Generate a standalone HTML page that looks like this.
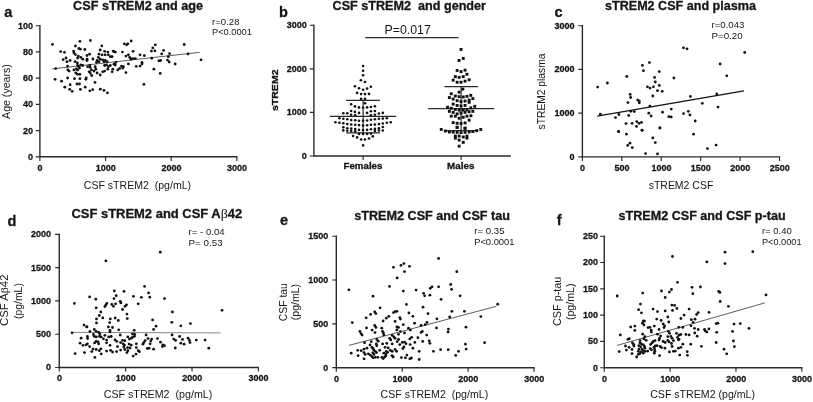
<!DOCTYPE html><html><head><meta charset="utf-8"><title>Figure</title><style>html,body{margin:0;padding:0;background:#fff}svg{display:block}text{font-family:"Liberation Sans",Arial,sans-serif;fill:#161616}text[font-weight=bold],g[font-weight=bold] text{stroke:#161616;stroke-width:.3px}</style></head><body>
<svg width="813" height="402" viewBox="0 0 813 402">
<rect width="813" height="402" fill="#fff"/>
<g id="pa">
<text x="4.20" y="16.70" font-size="14.5" font-weight="bold">a</text>
<text x="73.10" y="10.10" font-size="12.5" font-weight="bold" textLength="130.00" lengthAdjust="spacingAndGlyphs" xml:space="preserve">CSF sTREM2 and age</text>
<text x="212.10" y="24.70" font-size="9.3" textLength="27.40" lengthAdjust="spacingAndGlyphs" xml:space="preserve">r=0.28</text>
<text x="212.10" y="35.40" font-size="9.3" textLength="39.70" lengthAdjust="spacingAndGlyphs" xml:space="preserve">P&lt;0.0001</text>
<path d="M39.9 25.12V156.8H237.42" fill="none" stroke="#2a2a2a" stroke-width="1.4" stroke-linejoin="miter"/><path d="M35.80 25.70H39.9M35.80 51.92H39.9M35.80 78.14H39.9M35.80 104.36H39.9M35.80 130.58H39.9M35.80 156.80H39.9M39.90 156.8V160.90M105.55 156.8V160.90M171.20 156.8V160.90M236.85 156.8V160.90" fill="none" stroke="#2a2a2a" stroke-width="1.15"/><g font-weight="bold" font-size="9.6"><text x="18.10" y="28.69" textLength="15.00" lengthAdjust="spacingAndGlyphs">100</text><text x="23.10" y="54.91" textLength="10.00" lengthAdjust="spacingAndGlyphs">80</text><text x="23.10" y="81.13" textLength="10.00" lengthAdjust="spacingAndGlyphs">60</text><text x="23.10" y="107.35" textLength="10.00" lengthAdjust="spacingAndGlyphs">40</text><text x="23.10" y="133.57" textLength="10.00" lengthAdjust="spacingAndGlyphs">20</text><text x="28.10" y="159.79" textLength="5.00" lengthAdjust="spacingAndGlyphs">0</text><text x="37.60" y="170.90" textLength="5.00" lengthAdjust="spacingAndGlyphs">0</text><text x="95.75" y="170.90" textLength="20.00" lengthAdjust="spacingAndGlyphs">1000</text><text x="161.40" y="170.90" textLength="20.00" lengthAdjust="spacingAndGlyphs">2000</text><text x="227.05" y="170.90" textLength="20.00" lengthAdjust="spacingAndGlyphs">3000</text></g>
<text transform="translate(9.60 118.90) rotate(-90)" font-size="10.4" textLength="54.70" lengthAdjust="spacingAndGlyphs" xml:space="preserve">Age (years)</text>
<text x="83.80" y="189.30" font-size="10.4" textLength="107.30" lengthAdjust="spacingAndGlyphs" xml:space="preserve">CSF sTREM2  (pg/mL)</text>
<line x1="52.2" y1="68.9" x2="199.7" y2="52.3" stroke="#333" stroke-width="0.8"/>
<g fill="#111"><circle cx="52.5" cy="44.3" r="1.4"/><circle cx="79.9" cy="41.3" r="1.4"/><circle cx="90.4" cy="40.5" r="1.4"/><circle cx="131.2" cy="41.0" r="1.4"/><circle cx="75.4" cy="46.0" r="1.4"/><circle cx="101.8" cy="45.8" r="1.4"/><circle cx="124.3" cy="43.8" r="1.4"/><circle cx="126.6" cy="44.8" r="1.4"/><circle cx="127.8" cy="43.8" r="1.4"/><circle cx="78.9" cy="48.5" r="1.4"/><circle cx="80.4" cy="49.2" r="1.4"/><circle cx="84.8" cy="49.5" r="1.4"/><circle cx="100.2" cy="50.0" r="1.4"/><circle cx="104.6" cy="51.3" r="1.4"/><circle cx="107.8" cy="52.1" r="1.4"/><circle cx="113.1" cy="51.1" r="1.4"/><circle cx="115.3" cy="52.1" r="1.4"/><circle cx="114.0" cy="51.7" r="1.4"/><circle cx="60.7" cy="51.6" r="1.4"/><circle cx="64.5" cy="52.3" r="1.4"/><circle cx="73.6" cy="51.1" r="1.4"/><circle cx="73.9" cy="52.9" r="1.4"/><circle cx="75.4" cy="54.6" r="1.4"/><circle cx="122.4" cy="52.1" r="1.4"/><circle cx="133.1" cy="51.3" r="1.4"/><circle cx="140.0" cy="54.8" r="1.4"/><circle cx="89.6" cy="54.2" r="1.4"/><circle cx="87.0" cy="55.5" r="1.4"/><circle cx="99.0" cy="54.2" r="1.4"/><circle cx="102.1" cy="54.8" r="1.4"/><circle cx="105.2" cy="54.8" r="1.4"/><circle cx="108.4" cy="54.8" r="1.4"/><circle cx="110.3" cy="56.7" r="1.4"/><circle cx="112.1" cy="56.7" r="1.4"/><circle cx="78.3" cy="56.1" r="1.4"/><circle cx="77.6" cy="58.0" r="1.4"/><circle cx="80.8" cy="57.3" r="1.4"/><circle cx="82.7" cy="59.2" r="1.4"/><circle cx="87.0" cy="59.2" r="1.4"/><circle cx="87.0" cy="60.5" r="1.4"/><circle cx="63.2" cy="59.6" r="1.4"/><circle cx="66.0" cy="58.0" r="1.4"/><circle cx="67.0" cy="61.7" r="1.4"/><circle cx="70.1" cy="60.5" r="1.4"/><circle cx="92.9" cy="59.0" r="1.4"/><circle cx="98.3" cy="57.3" r="1.4"/><circle cx="100.2" cy="59.2" r="1.4"/><circle cx="97.1" cy="60.5" r="1.4"/><circle cx="96.5" cy="62.4" r="1.4"/><circle cx="99.0" cy="61.7" r="1.4"/><circle cx="102.7" cy="59.8" r="1.4"/><circle cx="105.2" cy="60.5" r="1.4"/><circle cx="104.0" cy="61.7" r="1.4"/><circle cx="107.1" cy="61.7" r="1.4"/><circle cx="125.9" cy="56.1" r="1.4"/><circle cx="128.4" cy="54.8" r="1.4"/><circle cx="129.7" cy="57.3" r="1.4"/><circle cx="131.0" cy="59.2" r="1.4"/><circle cx="132.8" cy="58.6" r="1.4"/><circle cx="135.3" cy="58.6" r="1.4"/><circle cx="75.1" cy="61.7" r="1.4"/><circle cx="77.4" cy="63.0" r="1.4"/><circle cx="77.6" cy="65.5" r="1.4"/><circle cx="80.8" cy="64.9" r="1.4"/><circle cx="82.7" cy="65.5" r="1.4"/><circle cx="78.9" cy="66.7" r="1.4"/><circle cx="115.9" cy="62.4" r="1.4"/><circle cx="114.0" cy="64.2" r="1.4"/><circle cx="115.3" cy="65.1" r="1.4"/><circle cx="106.5" cy="64.9" r="1.4"/><circle cx="104.6" cy="65.5" r="1.4"/><circle cx="108.4" cy="66.7" r="1.4"/><circle cx="110.3" cy="65.5" r="1.4"/><circle cx="89.9" cy="65.1" r="1.4"/><circle cx="87.7" cy="66.7" r="1.4"/><circle cx="90.2" cy="67.4" r="1.4"/><circle cx="95.2" cy="66.7" r="1.4"/><circle cx="95.8" cy="69.2" r="1.4"/><circle cx="55.7" cy="68.6" r="1.4"/><circle cx="67.6" cy="66.1" r="1.4"/><circle cx="67.8" cy="69.9" r="1.4"/><circle cx="69.1" cy="71.1" r="1.4"/><circle cx="73.9" cy="69.9" r="1.4"/><circle cx="76.4" cy="68.9" r="1.4"/><circle cx="77.6" cy="69.9" r="1.4"/><circle cx="79.5" cy="68.0" r="1.4"/><circle cx="128.4" cy="63.9" r="1.4"/><circle cx="121.5" cy="66.1" r="1.4"/><circle cx="123.4" cy="66.7" r="1.4"/><circle cx="122.8" cy="68.0" r="1.4"/><circle cx="119.7" cy="68.4" r="1.4"/><circle cx="117.8" cy="69.9" r="1.4"/><circle cx="136.3" cy="66.4" r="1.4"/><circle cx="140.1" cy="66.1" r="1.4"/><circle cx="107.8" cy="69.2" r="1.4"/><circle cx="104.6" cy="71.1" r="1.4"/><circle cx="102.7" cy="71.8" r="1.4"/><circle cx="112.8" cy="69.2" r="1.4"/><circle cx="112.1" cy="71.8" r="1.4"/><circle cx="125.9" cy="72.6" r="1.4"/><circle cx="91.4" cy="69.9" r="1.4"/><circle cx="89.2" cy="71.8" r="1.4"/><circle cx="90.2" cy="73.0" r="1.4"/><circle cx="94.0" cy="71.1" r="1.4"/><circle cx="97.1" cy="73.0" r="1.4"/><circle cx="100.2" cy="74.9" r="1.4"/><circle cx="91.7" cy="75.5" r="1.4"/><circle cx="75.8" cy="73.0" r="1.4"/><circle cx="77.6" cy="74.3" r="1.4"/><circle cx="79.9" cy="74.3" r="1.4"/><circle cx="55.1" cy="79.3" r="1.4"/><circle cx="61.6" cy="81.2" r="1.4"/><circle cx="67.6" cy="78.0" r="1.4"/><circle cx="74.5" cy="78.7" r="1.4"/><circle cx="79.9" cy="78.7" r="1.4"/><circle cx="86.2" cy="78.0" r="1.4"/><circle cx="85.8" cy="79.3" r="1.4"/><circle cx="95.0" cy="82.4" r="1.4"/><circle cx="70.1" cy="84.7" r="1.4"/><circle cx="77.0" cy="84.0" r="1.4"/><circle cx="79.5" cy="84.0" r="1.4"/><circle cx="155.3" cy="44.8" r="1.4"/><circle cx="152.8" cy="47.9" r="1.4"/><circle cx="151.4" cy="51.1" r="1.4"/><circle cx="154.9" cy="50.8" r="1.4"/><circle cx="163.6" cy="50.4" r="1.4"/><circle cx="184.2" cy="44.5" r="1.4"/><circle cx="144.3" cy="55.7" r="1.4"/><circle cx="161.7" cy="53.9" r="1.4"/><circle cx="169.6" cy="53.6" r="1.4"/><circle cx="188.0" cy="53.9" r="1.4"/><circle cx="151.7" cy="58.2" r="1.4"/><circle cx="168.3" cy="56.7" r="1.4"/><circle cx="158.9" cy="60.8" r="1.4"/><circle cx="160.6" cy="60.5" r="1.4"/><circle cx="167.5" cy="60.1" r="1.4"/><circle cx="169.2" cy="62.0" r="1.4"/><circle cx="175.2" cy="64.0" r="1.4"/><circle cx="201.0" cy="59.8" r="1.4"/><circle cx="142.0" cy="62.4" r="1.4"/><circle cx="142.0" cy="63.9" r="1.4"/><circle cx="153.9" cy="69.2" r="1.4"/><circle cx="160.2" cy="73.4" r="1.4"/><circle cx="143.9" cy="84.3" r="1.4"/><circle cx="64.8" cy="87.2" r="1.4"/><circle cx="69.7" cy="89.3" r="1.4"/><circle cx="72.2" cy="91.3" r="1.4"/><circle cx="80.4" cy="89.4" r="1.4"/><circle cx="85.2" cy="87.2" r="1.4"/><circle cx="89.8" cy="90.8" r="1.4"/><circle cx="92.7" cy="89.7" r="1.4"/><circle cx="100.3" cy="89.2" r="1.4"/><circle cx="104.0" cy="90.4" r="1.4"/><circle cx="107.4" cy="92.8" r="1.4"/></g>
</g>
<g id="pb">
<text x="279.10" y="16.70" font-size="14.5" font-weight="bold">b</text>
<text x="332.60" y="10.00" font-size="12.5" font-weight="bold" textLength="153.40" lengthAdjust="spacingAndGlyphs" xml:space="preserve">CSF sTREM2  and gender</text>
<path d="M313.9 24.62V156.0H510.88" fill="none" stroke="#2a2a2a" stroke-width="1.4" stroke-linejoin="miter"/><path d="M309.80 25.20H313.9M309.80 68.80H313.9M309.80 112.40H313.9M309.80 156.00H313.9M363.10 156.0V160.10M461.10 156.0V160.10" fill="none" stroke="#2a2a2a" stroke-width="1.15"/><g font-weight="bold" font-size="9.6"><text x="286.80" y="28.19" textLength="20.00" lengthAdjust="spacingAndGlyphs">3000</text><text x="286.80" y="71.79" textLength="20.00" lengthAdjust="spacingAndGlyphs">2000</text><text x="286.80" y="115.39" textLength="20.00" lengthAdjust="spacingAndGlyphs">1000</text><text x="301.80" y="158.99" textLength="5.00" lengthAdjust="spacingAndGlyphs">0</text></g>
<text x="343.50" y="168.90" font-size="9.3" font-weight="bold" textLength="38.90" lengthAdjust="spacingAndGlyphs" xml:space="preserve">Females</text>
<text x="447.10" y="168.90" font-size="9.3" font-weight="bold" textLength="27.30" lengthAdjust="spacingAndGlyphs" xml:space="preserve">Males</text>
<text transform="translate(277.60 111.00) rotate(-90)" font-size="9.8" font-weight="bold" textLength="41.50" lengthAdjust="spacingAndGlyphs" xml:space="preserve">sTREM2</text>
<text x="384.50" y="33.70" font-size="12.2" textLength="46.30" lengthAdjust="spacingAndGlyphs" xml:space="preserve">P=0.017</text>
<path d="M365.2 37.6H458.5" stroke="#2a2a2a" stroke-width="1.2"/>
<path d="M363.1 100.3V132.9M346.2 100.3H379.9M346.2 132.9H379.9M329.9 116.3H396.2" stroke="#2a2a2a" stroke-width="1.2" fill="none"/>
<path d="M461.1 86.7V130.7M444.4 86.7H477.9M444.4 130.7H477.9M428.1 108.7H494.2" stroke="#2a2a2a" stroke-width="1.2" fill="none"/>
<g fill="#111"><circle cx="363.1" cy="66.0" r="1.32"/><circle cx="363.1" cy="70.7" r="1.32"/><circle cx="363.1" cy="75.3" r="1.32"/><circle cx="360.9" cy="80.3" r="1.32"/><circle cx="365.0" cy="82.0" r="1.32"/><circle cx="354.9" cy="86.3" r="1.32"/><circle cx="359.0" cy="88.2" r="1.32"/><circle cx="363.1" cy="89.7" r="1.32"/><circle cx="367.1" cy="88.6" r="1.32"/><circle cx="370.9" cy="86.7" r="1.32"/><circle cx="357.1" cy="92.9" r="1.32"/><circle cx="361.1" cy="94.1" r="1.32"/><circle cx="365.0" cy="94.1" r="1.32"/><circle cx="369.0" cy="93.9" r="1.32"/><circle cx="361.1" cy="98.9" r="1.32"/><circle cx="365.0" cy="98.9" r="1.32"/><circle cx="365.0" cy="103.3" r="1.32"/><circle cx="351.1" cy="104.2" r="1.32"/><circle cx="354.9" cy="106.4" r="1.32"/><circle cx="359.0" cy="107.4" r="1.32"/><circle cx="363.1" cy="107.7" r="1.32"/><circle cx="367.1" cy="107.4" r="1.32"/><circle cx="370.9" cy="107.0" r="1.32"/><circle cx="374.9" cy="106.2" r="1.32"/><circle cx="351.1" cy="111.0" r="1.32"/><circle cx="354.9" cy="111.9" r="1.32"/><circle cx="359.0" cy="112.9" r="1.32"/><circle cx="367.1" cy="112.9" r="1.32"/><circle cx="370.9" cy="111.3" r="1.32"/><circle cx="374.9" cy="111.0" r="1.32"/><circle cx="343.3" cy="113.2" r="1.32"/><circle cx="347.3" cy="113.2" r="1.32"/><circle cx="378.9" cy="113.5" r="1.32"/><circle cx="382.8" cy="112.9" r="1.32"/><circle cx="351.1" cy="114.8" r="1.32"/><circle cx="374.9" cy="114.8" r="1.32"/><circle cx="355.2" cy="115.3" r="1.32"/><circle cx="370.9" cy="115.3" r="1.32"/><circle cx="339.4" cy="118.2" r="1.32"/><circle cx="343.3" cy="118.8" r="1.32"/><circle cx="347.3" cy="119.2" r="1.32"/><circle cx="351.2" cy="120.1" r="1.32"/><circle cx="355.2" cy="120.3" r="1.32"/><circle cx="359.0" cy="120.7" r="1.32"/><circle cx="363.1" cy="120.7" r="1.32"/><circle cx="367.1" cy="120.5" r="1.32"/><circle cx="370.9" cy="119.8" r="1.32"/><circle cx="374.9" cy="119.2" r="1.32"/><circle cx="378.9" cy="118.8" r="1.32"/><circle cx="382.8" cy="118.6" r="1.32"/><circle cx="386.8" cy="118.2" r="1.32"/><circle cx="335.4" cy="122.3" r="1.32"/><circle cx="339.4" cy="122.8" r="1.32"/><circle cx="343.3" cy="123.3" r="1.32"/><circle cx="347.3" cy="124.1" r="1.32"/><circle cx="351.2" cy="124.5" r="1.32"/><circle cx="355.2" cy="124.8" r="1.32"/><circle cx="359.0" cy="125.1" r="1.32"/><circle cx="363.1" cy="125.5" r="1.32"/><circle cx="367.1" cy="125.3" r="1.32"/><circle cx="370.9" cy="124.8" r="1.32"/><circle cx="374.9" cy="124.6" r="1.32"/><circle cx="378.9" cy="124.1" r="1.32"/><circle cx="382.8" cy="123.5" r="1.32"/><circle cx="386.8" cy="122.8" r="1.32"/><circle cx="390.7" cy="122.3" r="1.32"/><circle cx="343.3" cy="127.3" r="1.32"/><circle cx="347.3" cy="128.2" r="1.32"/><circle cx="351.2" cy="128.6" r="1.32"/><circle cx="355.2" cy="129.1" r="1.32"/><circle cx="359.0" cy="129.9" r="1.32"/><circle cx="363.1" cy="130.1" r="1.32"/><circle cx="367.1" cy="129.9" r="1.32"/><circle cx="370.9" cy="129.2" r="1.32"/><circle cx="374.9" cy="128.9" r="1.32"/><circle cx="378.9" cy="128.2" r="1.32"/><circle cx="382.8" cy="127.0" r="1.32"/><circle cx="343.3" cy="130.4" r="1.32"/><circle cx="347.3" cy="130.7" r="1.32"/><circle cx="351.2" cy="131.0" r="1.32"/><circle cx="355.2" cy="131.4" r="1.32"/><circle cx="374.9" cy="131.1" r="1.32"/><circle cx="378.9" cy="130.5" r="1.32"/><circle cx="382.8" cy="130.5" r="1.32"/><circle cx="353.1" cy="136.0" r="1.32"/><circle cx="357.1" cy="137.4" r="1.32"/><circle cx="361.1" cy="139.5" r="1.32"/><circle cx="365.0" cy="139.5" r="1.32"/><circle cx="369.0" cy="138.5" r="1.32"/><circle cx="372.8" cy="136.4" r="1.32"/><circle cx="363.1" cy="134.1" r="1.32"/><circle cx="367.1" cy="133.9" r="1.32"/><circle cx="359.0" cy="133.9" r="1.32"/><circle cx="370.9" cy="133.6" r="1.32"/><circle cx="363.1" cy="145.4" r="1.32"/><rect x="459.6" y="48.0" width="2.9" height="2.9"/><rect x="461.8" y="57.0" width="2.9" height="2.9"/><rect x="457.6" y="59.0" width="2.9" height="2.9"/><rect x="455.7" y="69.0" width="2.9" height="2.9"/><rect x="459.6" y="70.2" width="2.9" height="2.9"/><rect x="463.6" y="68.7" width="2.9" height="2.9"/><rect x="465.5" y="72.8" width="2.9" height="2.9"/><rect x="453.9" y="75.2" width="2.9" height="2.9"/><rect x="457.7" y="75.9" width="2.9" height="2.9"/><rect x="461.8" y="75.2" width="2.9" height="2.9"/><rect x="451.7" y="78.7" width="2.9" height="2.9"/><rect x="455.7" y="80.8" width="2.9" height="2.9"/><rect x="459.6" y="80.8" width="2.9" height="2.9"/><rect x="463.6" y="79.7" width="2.9" height="2.9"/><rect x="467.7" y="78.3" width="2.9" height="2.9"/><rect x="461.4" y="87.7" width="2.9" height="2.9"/><rect x="457.7" y="90.7" width="2.9" height="2.9"/><rect x="449.8" y="92.3" width="2.9" height="2.9"/><rect x="447.9" y="96.1" width="2.9" height="2.9"/><rect x="453.9" y="94.6" width="2.9" height="2.9"/><rect x="457.7" y="95.2" width="2.9" height="2.9"/><rect x="461.8" y="95.5" width="2.9" height="2.9"/><rect x="465.5" y="94.9" width="2.9" height="2.9"/><rect x="469.3" y="93.9" width="2.9" height="2.9"/><rect x="451.7" y="97.6" width="2.9" height="2.9"/><rect x="455.7" y="99.2" width="2.9" height="2.9"/><rect x="459.6" y="100.1" width="2.9" height="2.9"/><rect x="463.6" y="99.6" width="2.9" height="2.9"/><rect x="467.7" y="98.6" width="2.9" height="2.9"/><rect x="471.4" y="97.1" width="2.9" height="2.9"/><rect x="467.7" y="100.9" width="2.9" height="2.9"/><rect x="451.7" y="102.6" width="2.9" height="2.9"/><rect x="455.7" y="104.0" width="2.9" height="2.9"/><rect x="459.6" y="104.5" width="2.9" height="2.9"/><rect x="463.6" y="104.0" width="2.9" height="2.9"/><rect x="446.1" y="105.8" width="2.9" height="2.9"/><rect x="473.3" y="104.9" width="2.9" height="2.9"/><rect x="449.8" y="106.8" width="2.9" height="2.9"/><rect x="469.3" y="106.4" width="2.9" height="2.9"/><rect x="453.9" y="108.0" width="2.9" height="2.9"/><rect x="457.7" y="108.7" width="2.9" height="2.9"/><rect x="461.8" y="108.7" width="2.9" height="2.9"/><rect x="465.5" y="108.4" width="2.9" height="2.9"/><rect x="447.9" y="109.9" width="2.9" height="2.9"/><rect x="451.7" y="110.9" width="2.9" height="2.9"/><rect x="455.7" y="112.4" width="2.9" height="2.9"/><rect x="459.6" y="111.8" width="2.9" height="2.9"/><rect x="463.6" y="110.9" width="2.9" height="2.9"/><rect x="467.7" y="110.3" width="2.9" height="2.9"/><rect x="471.4" y="109.9" width="2.9" height="2.9"/><rect x="449.8" y="114.7" width="2.9" height="2.9"/><rect x="453.9" y="114.7" width="2.9" height="2.9"/><rect x="457.7" y="116.8" width="2.9" height="2.9"/><rect x="461.8" y="115.8" width="2.9" height="2.9"/><rect x="465.5" y="114.7" width="2.9" height="2.9"/><rect x="469.5" y="114.3" width="2.9" height="2.9"/><rect x="467.7" y="118.7" width="2.9" height="2.9"/><rect x="451.7" y="121.2" width="2.9" height="2.9"/><rect x="455.7" y="121.8" width="2.9" height="2.9"/><rect x="459.6" y="122.1" width="2.9" height="2.9"/><rect x="463.6" y="121.5" width="2.9" height="2.9"/><rect x="455.7" y="126.0" width="2.9" height="2.9"/><rect x="463.6" y="126.9" width="2.9" height="2.9"/><rect x="455.7" y="125.7" width="2.9" height="2.9"/><rect x="463.6" y="126.7" width="2.9" height="2.9"/><rect x="439.8" y="128.0" width="2.9" height="2.9"/><rect x="479.3" y="128.0" width="2.9" height="2.9"/><rect x="443.9" y="129.6" width="2.9" height="2.9"/><rect x="447.9" y="130.5" width="2.9" height="2.9"/><rect x="451.7" y="130.7" width="2.9" height="2.9"/><rect x="455.7" y="130.9" width="2.9" height="2.9"/><rect x="459.6" y="131.1" width="2.9" height="2.9"/><rect x="463.6" y="130.9" width="2.9" height="2.9"/><rect x="467.7" y="130.5" width="2.9" height="2.9"/><rect x="471.4" y="130.1" width="2.9" height="2.9"/><rect x="475.3" y="129.2" width="2.9" height="2.9"/><rect x="453.9" y="134.6" width="2.9" height="2.9"/><rect x="457.7" y="134.6" width="2.9" height="2.9"/><rect x="461.8" y="135.5" width="2.9" height="2.9"/><rect x="465.5" y="134.6" width="2.9" height="2.9"/><rect x="453.9" y="136.7" width="2.9" height="2.9"/><rect x="465.5" y="136.7" width="2.9" height="2.9"/><rect x="457.7" y="138.6" width="2.9" height="2.9"/><rect x="461.8" y="140.9" width="2.9" height="2.9"/><rect x="457.7" y="144.7" width="2.9" height="2.9"/></g>
</g>
<g id="pc">
<text x="554.50" y="16.70" font-size="14.5" font-weight="bold">c</text>
<text x="605.00" y="10.00" font-size="12.5" font-weight="bold" textLength="150.90" lengthAdjust="spacingAndGlyphs" xml:space="preserve">sTREM2 CSF and plasma</text>
<text x="711.50" y="27.80" font-size="9.3" textLength="32.80" lengthAdjust="spacingAndGlyphs" xml:space="preserve">r=0.043</text>
<text x="711.50" y="38.90" font-size="9.3" textLength="31.10" lengthAdjust="spacingAndGlyphs" xml:space="preserve">P=0.20</text>
<path d="M582.4 25.12V156.9H780.08" fill="none" stroke="#2a2a2a" stroke-width="1.4" stroke-linejoin="miter"/><path d="M578.30 25.70H582.4M578.30 69.43H582.4M578.30 113.16H582.4M578.30 156.89H582.4M582.40 156.9V161.00M621.82 156.9V161.00M661.24 156.9V161.00M700.66 156.9V161.00M740.08 156.9V161.00M779.50 156.9V161.00" fill="none" stroke="#2a2a2a" stroke-width="1.15"/><g font-weight="bold" font-size="9.6"><text x="554.40" y="28.69" textLength="20.00" lengthAdjust="spacingAndGlyphs">3000</text><text x="554.40" y="72.42" textLength="20.00" lengthAdjust="spacingAndGlyphs">2000</text><text x="554.40" y="116.15" textLength="20.00" lengthAdjust="spacingAndGlyphs">1000</text><text x="569.40" y="159.88" textLength="5.00" lengthAdjust="spacingAndGlyphs">0</text><text x="580.10" y="170.90" textLength="5.00" lengthAdjust="spacingAndGlyphs">0</text><text x="614.52" y="170.90" textLength="15.00" lengthAdjust="spacingAndGlyphs">500</text><text x="651.44" y="170.90" textLength="20.00" lengthAdjust="spacingAndGlyphs">1000</text><text x="690.86" y="170.90" textLength="20.00" lengthAdjust="spacingAndGlyphs">1500</text><text x="730.28" y="170.90" textLength="20.00" lengthAdjust="spacingAndGlyphs">2000</text><text x="769.70" y="170.90" textLength="20.00" lengthAdjust="spacingAndGlyphs">2500</text></g>
<text transform="translate(545.00 129.40) rotate(-90)" font-size="10.4" textLength="75.80" lengthAdjust="spacingAndGlyphs" xml:space="preserve">sTREM2 plasma</text>
<text x="648.70" y="189.30" font-size="10.4" textLength="64.60" lengthAdjust="spacingAndGlyphs" xml:space="preserve">sTREM2 CSF</text>
<line x1="597.2" y1="116.1" x2="743.9" y2="90.9" stroke="#111" stroke-width="1.2"/>
<g fill="#111"><circle cx="649.4" cy="62.6" r="1.4"/><circle cx="642.4" cy="65.3" r="1.4"/><circle cx="643.4" cy="70.7" r="1.4"/><circle cx="659.3" cy="71.6" r="1.4"/><circle cx="626.8" cy="76.5" r="1.4"/><circle cx="654.6" cy="77.4" r="1.4"/><circle cx="673.9" cy="78.0" r="1.4"/><circle cx="655.3" cy="82.0" r="1.4"/><circle cx="607.4" cy="83.0" r="1.4"/><circle cx="659.3" cy="85.4" r="1.4"/><circle cx="683.5" cy="47.8" r="1.4"/><circle cx="687.0" cy="48.8" r="1.4"/><circle cx="744.7" cy="52.5" r="1.4"/><circle cx="720.1" cy="64.0" r="1.4"/><circle cx="726.8" cy="75.8" r="1.4"/><circle cx="597.6" cy="87.1" r="1.4"/><circle cx="647.4" cy="86.8" r="1.4"/><circle cx="650.0" cy="88.1" r="1.4"/><circle cx="653.4" cy="86.8" r="1.4"/><circle cx="657.5" cy="90.7" r="1.4"/><circle cx="662.2" cy="91.3" r="1.4"/><circle cx="630.2" cy="94.4" r="1.4"/><circle cx="630.6" cy="97.5" r="1.4"/><circle cx="652.8" cy="96.0" r="1.4"/><circle cx="637.7" cy="100.1" r="1.4"/><circle cx="639.3" cy="101.1" r="1.4"/><circle cx="639.3" cy="102.8" r="1.4"/><circle cx="627.9" cy="102.6" r="1.4"/><circle cx="649.9" cy="106.1" r="1.4"/><circle cx="671.3" cy="109.1" r="1.4"/><circle cx="630.8" cy="111.3" r="1.4"/><circle cx="634.3" cy="111.6" r="1.4"/><circle cx="600.3" cy="114.1" r="1.4"/><circle cx="618.9" cy="114.5" r="1.4"/><circle cx="628.7" cy="115.5" r="1.4"/><circle cx="615.5" cy="117.6" r="1.4"/><circle cx="648.8" cy="113.2" r="1.4"/><circle cx="651.1" cy="116.0" r="1.4"/><circle cx="662.5" cy="112.2" r="1.4"/><circle cx="668.8" cy="116.7" r="1.4"/><circle cx="671.2" cy="117.0" r="1.4"/><circle cx="626.0" cy="123.6" r="1.4"/><circle cx="632.1" cy="123.3" r="1.4"/><circle cx="636.8" cy="121.6" r="1.4"/><circle cx="639.0" cy="123.3" r="1.4"/><circle cx="641.5" cy="122.4" r="1.4"/><circle cx="636.5" cy="126.4" r="1.4"/><circle cx="659.9" cy="128.0" r="1.4"/><circle cx="618.6" cy="131.7" r="1.4"/><circle cx="642.1" cy="130.2" r="1.4"/><circle cx="690.4" cy="96.5" r="1.4"/><circle cx="716.8" cy="94.0" r="1.4"/><circle cx="702.3" cy="103.3" r="1.4"/><circle cx="718.0" cy="107.1" r="1.4"/><circle cx="688.3" cy="111.3" r="1.4"/><circle cx="683.6" cy="113.6" r="1.4"/><circle cx="689.9" cy="114.9" r="1.4"/><circle cx="695.2" cy="121.0" r="1.4"/><circle cx="659.9" cy="127.9" r="1.4"/><circle cx="618.6" cy="131.5" r="1.4"/><circle cx="642.1" cy="130.3" r="1.4"/><circle cx="626.4" cy="134.2" r="1.4"/><circle cx="652.8" cy="137.9" r="1.4"/><circle cx="655.3" cy="142.6" r="1.4"/><circle cx="629.9" cy="143.2" r="1.4"/><circle cx="627.7" cy="145.4" r="1.4"/><circle cx="632.3" cy="147.6" r="1.4"/><circle cx="645.6" cy="153.6" r="1.4"/><circle cx="657.5" cy="153.9" r="1.4"/><circle cx="693.5" cy="134.2" r="1.4"/><circle cx="707.5" cy="148.6" r="1.4"/><circle cx="716.1" cy="145.1" r="1.4"/></g>
</g>
<g id="pd">
<text x="7.60" y="226.30" font-size="14.5" font-weight="bold">d</text>
<text x="71.40" y="218.20" font-size="12.5" font-weight="bold" textLength="170.90" lengthAdjust="spacingAndGlyphs" xml:space="preserve">CSF sTREM2 and CSF A<tspan font-family="'Liberation Serif',serif" font-weight="normal" stroke="none" font-size="13.5">β</tspan>42</text>
<text x="188.60" y="234.70" font-size="9.3" textLength="36.00" lengthAdjust="spacingAndGlyphs" xml:space="preserve">r= - 0.04</text>
<text x="188.60" y="246.00" font-size="9.3" textLength="34.00" lengthAdjust="spacingAndGlyphs" xml:space="preserve">P= 0.53</text>
<path d="M59.25 233.73V367.5H258.97" fill="none" stroke="#2a2a2a" stroke-width="1.4" stroke-linejoin="miter"/><path d="M55.15 234.30H59.25M55.15 267.60H59.25M55.15 300.90H59.25M55.15 334.20H59.25M55.15 367.50H59.25M59.25 367.5V371.60M125.63 367.5V371.60M192.01 367.5V371.60M258.39 367.5V371.60" fill="none" stroke="#2a2a2a" stroke-width="1.15"/><g font-weight="bold" font-size="9.6"><text x="31.05" y="237.29" textLength="20.00" lengthAdjust="spacingAndGlyphs">2000</text><text x="31.05" y="270.59" textLength="20.00" lengthAdjust="spacingAndGlyphs">1500</text><text x="31.05" y="303.89" textLength="20.00" lengthAdjust="spacingAndGlyphs">1000</text><text x="36.05" y="337.19" textLength="15.00" lengthAdjust="spacingAndGlyphs">500</text><text x="46.05" y="370.49" textLength="5.00" lengthAdjust="spacingAndGlyphs">0</text><text x="56.95" y="381.30" textLength="5.00" lengthAdjust="spacingAndGlyphs">0</text><text x="115.83" y="381.30" textLength="20.00" lengthAdjust="spacingAndGlyphs">1000</text><text x="182.21" y="381.30" textLength="20.00" lengthAdjust="spacingAndGlyphs">2000</text><text x="248.59" y="381.30" textLength="20.00" lengthAdjust="spacingAndGlyphs">3000</text></g>
<text transform="translate(8.30 326.00) rotate(-90)" font-size="10.4" textLength="51.50" lengthAdjust="spacingAndGlyphs" xml:space="preserve">CSF A<tspan font-family="'Liberation Serif',serif" font-weight="normal" stroke="none" font-size="11">β</tspan>42</text>
<text transform="translate(21.50 319.00) rotate(-90)" font-size="10.4" textLength="35.90" lengthAdjust="spacingAndGlyphs" xml:space="preserve">(pg/mL)</text>
<text x="103.70" y="397.90" font-size="10.4" textLength="108.60" lengthAdjust="spacingAndGlyphs" xml:space="preserve">CSF sTREM2  (pg/mL)</text>
<line x1="71" y1="332.4" x2="220.7" y2="332.9" stroke="#555" stroke-width="0.7"/>
<g fill="#111"><circle cx="105.9" cy="260.9" r="1.4"/><circle cx="144.6" cy="286.4" r="1.4"/><circle cx="114.3" cy="290.9" r="1.4"/><circle cx="124.0" cy="291.3" r="1.4"/><circle cx="148.6" cy="292.9" r="1.4"/><circle cx="116.2" cy="295.7" r="1.4"/><circle cx="89.6" cy="296.9" r="1.4"/><circle cx="133.4" cy="296.3" r="1.4"/><circle cx="141.3" cy="297.3" r="1.4"/><circle cx="149.8" cy="297.2" r="1.4"/><circle cx="95.8" cy="299.2" r="1.4"/><circle cx="114.0" cy="298.6" r="1.4"/><circle cx="74.4" cy="303.4" r="1.4"/><circle cx="106.8" cy="303.4" r="1.4"/><circle cx="105.8" cy="305.1" r="1.4"/><circle cx="104.9" cy="306.6" r="1.4"/><circle cx="111.8" cy="304.4" r="1.4"/><circle cx="115.6" cy="303.8" r="1.4"/><circle cx="113.5" cy="306.3" r="1.4"/><circle cx="120.2" cy="301.3" r="1.4"/><circle cx="120.9" cy="302.9" r="1.4"/><circle cx="126.5" cy="304.8" r="1.4"/><circle cx="125.0" cy="306.3" r="1.4"/><circle cx="138.2" cy="303.8" r="1.4"/><circle cx="96.2" cy="307.8" r="1.4"/><circle cx="122.5" cy="309.5" r="1.4"/><circle cx="100.8" cy="312.0" r="1.4"/><circle cx="126.9" cy="314.1" r="1.4"/><circle cx="99.3" cy="315.5" r="1.4"/><circle cx="102.8" cy="317.9" r="1.4"/><circle cx="96.5" cy="318.9" r="1.4"/><circle cx="110.3" cy="318.9" r="1.4"/><circle cx="115.2" cy="318.0" r="1.4"/><circle cx="118.3" cy="320.5" r="1.4"/><circle cx="127.3" cy="318.6" r="1.4"/><circle cx="152.6" cy="319.9" r="1.4"/><circle cx="96.5" cy="322.9" r="1.4"/><circle cx="109.6" cy="322.6" r="1.4"/><circle cx="84.0" cy="325.1" r="1.4"/><circle cx="87.0" cy="326.8" r="1.4"/><circle cx="108.4" cy="326.9" r="1.4"/><circle cx="112.5" cy="327.5" r="1.4"/><circle cx="86.7" cy="326.9" r="1.4"/><circle cx="94.3" cy="329.4" r="1.4"/><circle cx="118.7" cy="329.8" r="1.4"/><circle cx="110.0" cy="330.3" r="1.4"/><circle cx="134.2" cy="330.3" r="1.4"/><circle cx="153.6" cy="329.4" r="1.4"/><circle cx="156.0" cy="326.2" r="1.4"/><circle cx="72.1" cy="332.8" r="1.4"/><circle cx="89.9" cy="331.5" r="1.4"/><circle cx="96.2" cy="331.3" r="1.4"/><circle cx="98.7" cy="332.5" r="1.4"/><circle cx="99.9" cy="334.0" r="1.4"/><circle cx="110.0" cy="331.9" r="1.4"/><circle cx="93.4" cy="334.4" r="1.4"/><circle cx="94.3" cy="336.3" r="1.4"/><circle cx="96.2" cy="336.9" r="1.4"/><circle cx="99.3" cy="336.3" r="1.4"/><circle cx="101.2" cy="336.9" r="1.4"/><circle cx="104.9" cy="335.3" r="1.4"/><circle cx="108.7" cy="336.9" r="1.4"/><circle cx="111.2" cy="336.5" r="1.4"/><circle cx="120.2" cy="335.0" r="1.4"/><circle cx="132.5" cy="334.0" r="1.4"/><circle cx="134.8" cy="334.4" r="1.4"/><circle cx="134.4" cy="336.3" r="1.4"/><circle cx="146.1" cy="335.0" r="1.4"/><circle cx="81.1" cy="338.2" r="1.4"/><circle cx="87.4" cy="336.5" r="1.4"/><circle cx="87.6" cy="338.6" r="1.4"/><circle cx="103.4" cy="338.8" r="1.4"/><circle cx="106.6" cy="340.1" r="1.4"/><circle cx="115.0" cy="339.8" r="1.4"/><circle cx="116.8" cy="341.3" r="1.4"/><circle cx="122.5" cy="340.3" r="1.4"/><circle cx="124.8" cy="340.7" r="1.4"/><circle cx="127.8" cy="336.9" r="1.4"/><circle cx="129.4" cy="339.1" r="1.4"/><circle cx="131.3" cy="338.2" r="1.4"/><circle cx="132.5" cy="337.3" r="1.4"/><circle cx="148.0" cy="338.6" r="1.4"/><circle cx="151.7" cy="339.1" r="1.4"/><circle cx="157.4" cy="338.6" r="1.4"/><circle cx="80.1" cy="343.2" r="1.4"/><circle cx="96.2" cy="341.3" r="1.4"/><circle cx="98.0" cy="341.9" r="1.4"/><circle cx="98.7" cy="343.8" r="1.4"/><circle cx="94.6" cy="342.9" r="1.4"/><circle cx="106.6" cy="342.8" r="1.4"/><circle cx="120.6" cy="342.6" r="1.4"/><circle cx="123.1" cy="343.8" r="1.4"/><circle cx="145.1" cy="340.7" r="1.4"/><circle cx="143.8" cy="342.6" r="1.4"/><circle cx="142.9" cy="344.2" r="1.4"/><circle cx="150.7" cy="341.1" r="1.4"/><circle cx="150.1" cy="343.8" r="1.4"/><circle cx="83.0" cy="345.3" r="1.4"/><circle cx="86.1" cy="344.8" r="1.4"/><circle cx="87.4" cy="343.8" r="1.4"/><circle cx="89.6" cy="346.6" r="1.4"/><circle cx="110.0" cy="345.3" r="1.4"/><circle cx="117.5" cy="346.6" r="1.4"/><circle cx="124.4" cy="345.1" r="1.4"/><circle cx="123.8" cy="347.0" r="1.4"/><circle cx="129.1" cy="344.1" r="1.4"/><circle cx="131.3" cy="345.1" r="1.4"/><circle cx="136.3" cy="343.8" r="1.4"/><circle cx="136.3" cy="347.6" r="1.4"/><circle cx="93.0" cy="349.1" r="1.4"/><circle cx="96.2" cy="349.5" r="1.4"/><circle cx="100.9" cy="348.8" r="1.4"/><circle cx="99.3" cy="350.7" r="1.4"/><circle cx="110.6" cy="350.3" r="1.4"/><circle cx="120.6" cy="350.1" r="1.4"/><circle cx="124.8" cy="349.5" r="1.4"/><circle cx="127.5" cy="347.6" r="1.4"/><circle cx="130.0" cy="348.0" r="1.4"/><circle cx="127.9" cy="350.7" r="1.4"/><circle cx="138.2" cy="350.7" r="1.4"/><circle cx="139.4" cy="351.7" r="1.4"/><circle cx="147.3" cy="348.5" r="1.4"/><circle cx="149.1" cy="348.2" r="1.4"/><circle cx="153.6" cy="349.2" r="1.4"/><circle cx="75.1" cy="353.6" r="1.4"/><circle cx="84.5" cy="352.6" r="1.4"/><circle cx="91.8" cy="351.6" r="1.4"/><circle cx="101.2" cy="353.9" r="1.4"/><circle cx="106.6" cy="351.1" r="1.4"/><circle cx="112.5" cy="352.0" r="1.4"/><circle cx="116.6" cy="351.6" r="1.4"/><circle cx="126.9" cy="352.6" r="1.4"/><circle cx="136.0" cy="354.1" r="1.4"/><circle cx="133.2" cy="356.1" r="1.4"/><circle cx="94.9" cy="357.4" r="1.4"/><circle cx="160.3" cy="252.2" r="1.4"/><circle cx="164.5" cy="298.6" r="1.4"/><circle cx="172.4" cy="312.0" r="1.4"/><circle cx="222.0" cy="310.3" r="1.4"/><circle cx="171.8" cy="322.3" r="1.4"/><circle cx="180.8" cy="325.8" r="1.4"/><circle cx="190.4" cy="323.6" r="1.4"/><circle cx="172.1" cy="335.0" r="1.4"/><circle cx="179.6" cy="336.5" r="1.4"/><circle cx="173.7" cy="339.1" r="1.4"/><circle cx="175.6" cy="340.4" r="1.4"/><circle cx="182.5" cy="339.4" r="1.4"/><circle cx="188.1" cy="338.2" r="1.4"/><circle cx="189.4" cy="340.3" r="1.4"/><circle cx="190.0" cy="342.6" r="1.4"/><circle cx="196.3" cy="340.1" r="1.4"/><circle cx="205.1" cy="340.1" r="1.4"/><circle cx="160.5" cy="342.2" r="1.4"/><circle cx="162.8" cy="344.8" r="1.4"/><circle cx="164.5" cy="345.7" r="1.4"/><circle cx="162.4" cy="346.6" r="1.4"/><circle cx="180.8" cy="343.2" r="1.4"/><circle cx="184.1" cy="344.2" r="1.4"/><circle cx="175.3" cy="348.0" r="1.4"/><circle cx="208.8" cy="348.2" r="1.4"/></g>
</g>
<g id="pe">
<text x="280.10" y="224.90" font-size="14.5" font-weight="bold">e</text>
<text x="354.20" y="219.90" font-size="12.5" font-weight="bold" textLength="155.80" lengthAdjust="spacingAndGlyphs" xml:space="preserve">sTREM2 CSF and CSF tau</text>
<text x="474.20" y="234.20" font-size="9.3" textLength="30.40" lengthAdjust="spacingAndGlyphs" xml:space="preserve">r= 0.35</text>
<text x="474.20" y="245.30" font-size="9.3" textLength="40.20" lengthAdjust="spacingAndGlyphs" xml:space="preserve">P&lt;0.0001</text>
<path d="M336.3 235.62V367.7H534.58" fill="none" stroke="#2a2a2a" stroke-width="1.4" stroke-linejoin="miter"/><path d="M332.20 236.20H336.3M332.20 280.03H336.3M332.20 323.86H336.3M332.20 367.69H336.3M336.30 367.7V371.80M402.20 367.7V371.80M468.10 367.7V371.80M534.00 367.7V371.80" fill="none" stroke="#2a2a2a" stroke-width="1.15"/><g font-weight="bold" font-size="9.6"><text x="308.20" y="239.19" textLength="20.00" lengthAdjust="spacingAndGlyphs">1500</text><text x="308.20" y="283.02" textLength="20.00" lengthAdjust="spacingAndGlyphs">1000</text><text x="313.20" y="326.85" textLength="15.00" lengthAdjust="spacingAndGlyphs">500</text><text x="323.20" y="370.68" textLength="5.00" lengthAdjust="spacingAndGlyphs">0</text><text x="334.00" y="381.60" textLength="5.00" lengthAdjust="spacingAndGlyphs">0</text><text x="392.40" y="381.60" textLength="20.00" lengthAdjust="spacingAndGlyphs">1000</text><text x="458.30" y="381.60" textLength="20.00" lengthAdjust="spacingAndGlyphs">2000</text><text x="524.20" y="381.60" textLength="20.00" lengthAdjust="spacingAndGlyphs">3000</text></g>
<text transform="translate(286.50 321.20) rotate(-90)" font-size="10.4" textLength="38.00" lengthAdjust="spacingAndGlyphs" xml:space="preserve">CSF tau</text>
<text transform="translate(298.80 320.20) rotate(-90)" font-size="10.4" textLength="36.20" lengthAdjust="spacingAndGlyphs" xml:space="preserve">(pg/mL)</text>
<text x="380.50" y="397.90" font-size="10.4" textLength="107.70" lengthAdjust="spacingAndGlyphs" xml:space="preserve">CSF sTREM2  (pg/mL)</text>
<line x1="348.9" y1="345.4" x2="496.4" y2="306.3" stroke="#333" stroke-width="0.8"/>
<g fill="#111"><circle cx="403.9" cy="263.6" r="1.4"/><circle cx="401.0" cy="265.3" r="1.4"/><circle cx="393.5" cy="267.3" r="1.4"/><circle cx="409.5" cy="266.3" r="1.4"/><circle cx="404.5" cy="271.6" r="1.4"/><circle cx="397.2" cy="277.9" r="1.4"/><circle cx="389.5" cy="286.4" r="1.4"/><circle cx="348.9" cy="289.8" r="1.4"/><circle cx="403.3" cy="291.1" r="1.4"/><circle cx="416.1" cy="290.1" r="1.4"/><circle cx="432.0" cy="286.8" r="1.4"/><circle cx="430.2" cy="288.3" r="1.4"/><circle cx="423.6" cy="293.3" r="1.4"/><circle cx="424.6" cy="295.8" r="1.4"/><circle cx="429.9" cy="295.2" r="1.4"/><circle cx="373.0" cy="296.2" r="1.4"/><circle cx="406.4" cy="304.4" r="1.4"/><circle cx="423.0" cy="307.2" r="1.4"/><circle cx="380.1" cy="307.8" r="1.4"/><circle cx="374.7" cy="311.9" r="1.4"/><circle cx="375.9" cy="313.6" r="1.4"/><circle cx="370.6" cy="314.4" r="1.4"/><circle cx="393.5" cy="312.6" r="1.4"/><circle cx="395.1" cy="311.7" r="1.4"/><circle cx="396.9" cy="311.3" r="1.4"/><circle cx="408.9" cy="312.9" r="1.4"/><circle cx="428.0" cy="313.6" r="1.4"/><circle cx="366.2" cy="317.8" r="1.4"/><circle cx="388.8" cy="316.3" r="1.4"/><circle cx="386.3" cy="318.2" r="1.4"/><circle cx="412.9" cy="316.3" r="1.4"/><circle cx="399.8" cy="317.6" r="1.4"/><circle cx="400.4" cy="319.1" r="1.4"/><circle cx="383.1" cy="321.0" r="1.4"/><circle cx="395.1" cy="321.4" r="1.4"/><circle cx="352.3" cy="322.6" r="1.4"/><circle cx="414.6" cy="323.2" r="1.4"/><circle cx="427.0" cy="322.4" r="1.4"/><circle cx="403.3" cy="324.7" r="1.4"/><circle cx="374.7" cy="325.5" r="1.4"/><circle cx="375.9" cy="327.4" r="1.4"/><circle cx="366.5" cy="327.9" r="1.4"/><circle cx="381.8" cy="328.2" r="1.4"/><circle cx="396.9" cy="327.0" r="1.4"/><circle cx="398.5" cy="327.4" r="1.4"/><circle cx="421.1" cy="325.5" r="1.4"/><circle cx="425.2" cy="324.7" r="1.4"/><circle cx="408.5" cy="328.2" r="1.4"/><circle cx="410.4" cy="330.1" r="1.4"/><circle cx="372.1" cy="330.1" r="1.4"/><circle cx="382.6" cy="331.4" r="1.4"/><circle cx="396.9" cy="329.9" r="1.4"/><circle cx="400.4" cy="331.6" r="1.4"/><circle cx="375.0" cy="332.6" r="1.4"/><circle cx="383.4" cy="333.0" r="1.4"/><circle cx="359.9" cy="331.4" r="1.4"/><circle cx="361.1" cy="333.6" r="1.4"/><circle cx="362.1" cy="335.1" r="1.4"/><circle cx="404.5" cy="332.9" r="1.4"/><circle cx="398.5" cy="334.3" r="1.4"/><circle cx="422.3" cy="331.4" r="1.4"/><circle cx="421.1" cy="332.4" r="1.4"/><circle cx="426.7" cy="335.1" r="1.4"/><circle cx="383.8" cy="334.9" r="1.4"/><circle cx="392.2" cy="335.4" r="1.4"/><circle cx="393.9" cy="337.0" r="1.4"/><circle cx="395.1" cy="338.3" r="1.4"/><circle cx="389.7" cy="338.3" r="1.4"/><circle cx="390.7" cy="339.9" r="1.4"/><circle cx="411.7" cy="337.3" r="1.4"/><circle cx="409.8" cy="338.9" r="1.4"/><circle cx="417.9" cy="337.7" r="1.4"/><circle cx="398.5" cy="339.5" r="1.4"/><circle cx="376.9" cy="339.5" r="1.4"/><circle cx="378.2" cy="341.2" r="1.4"/><circle cx="371.3" cy="341.7" r="1.4"/><circle cx="364.6" cy="342.7" r="1.4"/><circle cx="397.2" cy="341.7" r="1.4"/><circle cx="402.3" cy="342.4" r="1.4"/><circle cx="404.5" cy="342.1" r="1.4"/><circle cx="406.0" cy="343.7" r="1.4"/><circle cx="414.8" cy="342.4" r="1.4"/><circle cx="422.7" cy="341.4" r="1.4"/><circle cx="429.2" cy="340.8" r="1.4"/><circle cx="429.9" cy="343.3" r="1.4"/><circle cx="376.3" cy="343.9" r="1.4"/><circle cx="382.6" cy="343.9" r="1.4"/><circle cx="386.8" cy="343.3" r="1.4"/><circle cx="392.2" cy="343.9" r="1.4"/><circle cx="370.0" cy="344.9" r="1.4"/><circle cx="399.8" cy="344.6" r="1.4"/><circle cx="410.2" cy="344.6" r="1.4"/><circle cx="403.9" cy="346.9" r="1.4"/><circle cx="402.9" cy="348.6" r="1.4"/><circle cx="412.9" cy="348.2" r="1.4"/><circle cx="371.9" cy="347.3" r="1.4"/><circle cx="373.1" cy="348.6" r="1.4"/><circle cx="376.8" cy="345.7" r="1.4"/><circle cx="385.1" cy="347.3" r="1.4"/><circle cx="388.2" cy="347.9" r="1.4"/><circle cx="357.7" cy="350.3" r="1.4"/><circle cx="361.2" cy="350.7" r="1.4"/><circle cx="364.0" cy="349.1" r="1.4"/><circle cx="366.9" cy="348.2" r="1.4"/><circle cx="373.8" cy="350.1" r="1.4"/><circle cx="375.3" cy="351.3" r="1.4"/><circle cx="379.7" cy="350.3" r="1.4"/><circle cx="386.3" cy="351.3" r="1.4"/><circle cx="387.6" cy="352.3" r="1.4"/><circle cx="390.3" cy="350.3" r="1.4"/><circle cx="392.2" cy="351.3" r="1.4"/><circle cx="395.1" cy="349.4" r="1.4"/><circle cx="396.6" cy="351.3" r="1.4"/><circle cx="419.2" cy="351.3" r="1.4"/><circle cx="433.4" cy="351.3" r="1.4"/><circle cx="351.2" cy="353.2" r="1.4"/><circle cx="364.0" cy="352.6" r="1.4"/><circle cx="365.2" cy="354.4" r="1.4"/><circle cx="368.4" cy="353.8" r="1.4"/><circle cx="370.3" cy="355.1" r="1.4"/><circle cx="372.8" cy="352.8" r="1.4"/><circle cx="374.0" cy="354.4" r="1.4"/><circle cx="376.5" cy="352.6" r="1.4"/><circle cx="383.8" cy="353.2" r="1.4"/><circle cx="385.9" cy="353.8" r="1.4"/><circle cx="358.1" cy="355.7" r="1.4"/><circle cx="371.9" cy="356.6" r="1.4"/><circle cx="373.1" cy="357.8" r="1.4"/><circle cx="375.3" cy="357.3" r="1.4"/><circle cx="377.8" cy="357.3" r="1.4"/><circle cx="381.9" cy="357.3" r="1.4"/><circle cx="383.2" cy="358.6" r="1.4"/><circle cx="384.7" cy="357.0" r="1.4"/><circle cx="385.9" cy="355.7" r="1.4"/><circle cx="392.0" cy="355.7" r="1.4"/><circle cx="393.2" cy="357.0" r="1.4"/><circle cx="401.4" cy="357.6" r="1.4"/><circle cx="405.4" cy="357.8" r="1.4"/><circle cx="406.9" cy="355.1" r="1.4"/><circle cx="409.8" cy="358.8" r="1.4"/><circle cx="411.4" cy="358.0" r="1.4"/><circle cx="419.2" cy="359.5" r="1.4"/><circle cx="364.0" cy="358.8" r="1.4"/><circle cx="438.6" cy="258.5" r="1.4"/><circle cx="456.8" cy="271.7" r="1.4"/><circle cx="450.7" cy="284.5" r="1.4"/><circle cx="438.6" cy="286.8" r="1.4"/><circle cx="451.6" cy="289.3" r="1.4"/><circle cx="460.1" cy="295.8" r="1.4"/><circle cx="441.1" cy="299.3" r="1.4"/><circle cx="497.7" cy="304.2" r="1.4"/><circle cx="451.9" cy="311.3" r="1.4"/><circle cx="464.4" cy="311.3" r="1.4"/><circle cx="449.7" cy="317.0" r="1.4"/><circle cx="480.8" cy="316.6" r="1.4"/><circle cx="436.9" cy="318.8" r="1.4"/><circle cx="436.5" cy="327.9" r="1.4"/><circle cx="466.0" cy="327.2" r="1.4"/><circle cx="448.4" cy="329.1" r="1.4"/><circle cx="448.1" cy="332.0" r="1.4"/><circle cx="484.6" cy="342.7" r="1.4"/><circle cx="465.4" cy="344.2" r="1.4"/><circle cx="466.2" cy="349.1" r="1.4"/><circle cx="440.6" cy="349.7" r="1.4"/><circle cx="448.2" cy="349.7" r="1.4"/><circle cx="458.5" cy="351.3" r="1.4"/><circle cx="455.7" cy="355.4" r="1.4"/></g>
</g>
<g id="pf">
<text x="556.70" y="225.10" font-size="14.5" font-weight="bold">f</text>
<text x="618.60" y="219.90" font-size="12.5" font-weight="bold" textLength="167.00" lengthAdjust="spacingAndGlyphs" xml:space="preserve">sTREM2 CSF and CSF p-tau</text>
<text x="761.90" y="234.20" font-size="9.3" textLength="29.90" lengthAdjust="spacingAndGlyphs" xml:space="preserve">r= 0.40</text>
<text x="761.90" y="245.30" font-size="9.3" textLength="39.70" lengthAdjust="spacingAndGlyphs" xml:space="preserve">P&lt;0.0001</text>
<path d="M604.25 235.62V367.7H802.38" fill="none" stroke="#2a2a2a" stroke-width="1.4" stroke-linejoin="miter"/><path d="M600.15 236.20H604.25M600.15 262.50H604.25M600.15 288.80H604.25M600.15 315.10H604.25M600.15 341.40H604.25M600.15 367.70H604.25M604.25 367.7V371.80M670.10 367.7V371.80M735.95 367.7V371.80M801.80 367.7V371.80" fill="none" stroke="#2a2a2a" stroke-width="1.15"/><g font-weight="bold" font-size="9.6"><text x="583.05" y="239.19" textLength="15.00" lengthAdjust="spacingAndGlyphs">250</text><text x="583.05" y="265.49" textLength="15.00" lengthAdjust="spacingAndGlyphs">200</text><text x="583.05" y="291.79" textLength="15.00" lengthAdjust="spacingAndGlyphs">150</text><text x="583.05" y="318.09" textLength="15.00" lengthAdjust="spacingAndGlyphs">100</text><text x="588.05" y="344.39" textLength="10.00" lengthAdjust="spacingAndGlyphs">50</text><text x="593.05" y="370.69" textLength="5.00" lengthAdjust="spacingAndGlyphs">0</text><text x="601.95" y="381.60" textLength="5.00" lengthAdjust="spacingAndGlyphs">0</text><text x="660.30" y="381.60" textLength="20.00" lengthAdjust="spacingAndGlyphs">1000</text><text x="726.15" y="381.60" textLength="20.00" lengthAdjust="spacingAndGlyphs">2000</text><text x="792.00" y="381.60" textLength="20.00" lengthAdjust="spacingAndGlyphs">3000</text></g>
<text transform="translate(560.50 326.10) rotate(-90)" font-size="10.4" textLength="49.50" lengthAdjust="spacingAndGlyphs" xml:space="preserve">CSF p-tau</text>
<text transform="translate(574.30 320.10) rotate(-90)" font-size="10.4" textLength="36.60" lengthAdjust="spacingAndGlyphs" xml:space="preserve">(pg/mL)</text>
<text x="650.20" y="397.90" font-size="10.4" textLength="104.80" lengthAdjust="spacingAndGlyphs" xml:space="preserve">CSF sTREM2 (pg/mL)</text>
<line x1="617.2" y1="345.4" x2="764.7" y2="302.9" stroke="#333" stroke-width="0.8"/>
<g fill="#111"><circle cx="672.5" cy="256.5" r="1.4"/><circle cx="677.5" cy="282.3" r="1.4"/><circle cx="692.0" cy="287.3" r="1.4"/><circle cx="700.4" cy="287.0" r="1.4"/><circle cx="671.5" cy="289.5" r="1.4"/><circle cx="669.4" cy="292.1" r="1.4"/><circle cx="661.5" cy="291.0" r="1.4"/><circle cx="642.7" cy="293.1" r="1.4"/><circle cx="692.8" cy="293.7" r="1.4"/><circle cx="617.2" cy="296.0" r="1.4"/><circle cx="665.2" cy="297.5" r="1.4"/><circle cx="640.4" cy="304.1" r="1.4"/><circle cx="671.9" cy="305.1" r="1.4"/><circle cx="674.6" cy="305.4" r="1.4"/><circle cx="676.9" cy="308.4" r="1.4"/><circle cx="689.1" cy="309.1" r="1.4"/><circle cx="638.6" cy="309.7" r="1.4"/><circle cx="653.1" cy="309.1" r="1.4"/><circle cx="641.4" cy="312.8" r="1.4"/><circle cx="657.5" cy="311.6" r="1.4"/><circle cx="665.2" cy="310.9" r="1.4"/><circle cx="672.5" cy="310.4" r="1.4"/><circle cx="698.2" cy="312.6" r="1.4"/><circle cx="696.6" cy="314.5" r="1.4"/><circle cx="684.1" cy="315.1" r="1.4"/><circle cx="667.8" cy="317.0" r="1.4"/><circle cx="680.9" cy="318.5" r="1.4"/><circle cx="656.7" cy="319.1" r="1.4"/><circle cx="661.1" cy="320.4" r="1.4"/><circle cx="691.3" cy="319.7" r="1.4"/><circle cx="695.0" cy="319.2" r="1.4"/><circle cx="643.3" cy="321.0" r="1.4"/><circle cx="644.5" cy="321.1" r="1.4"/><circle cx="642.4" cy="323.2" r="1.4"/><circle cx="643.9" cy="324.9" r="1.4"/><circle cx="668.8" cy="322.0" r="1.4"/><circle cx="693.2" cy="322.4" r="1.4"/><circle cx="663.1" cy="323.9" r="1.4"/><circle cx="664.6" cy="325.8" r="1.4"/><circle cx="630.7" cy="327.0" r="1.4"/><circle cx="634.8" cy="326.1" r="1.4"/><circle cx="654.3" cy="326.1" r="1.4"/><circle cx="648.0" cy="327.6" r="1.4"/><circle cx="649.9" cy="327.3" r="1.4"/><circle cx="664.0" cy="327.6" r="1.4"/><circle cx="678.8" cy="327.3" r="1.4"/><circle cx="682.8" cy="327.4" r="1.4"/><circle cx="691.0" cy="325.8" r="1.4"/><circle cx="694.5" cy="328.3" r="1.4"/><circle cx="698.2" cy="329.5" r="1.4"/><circle cx="634.8" cy="330.4" r="1.4"/><circle cx="651.2" cy="330.1" r="1.4"/><circle cx="659.0" cy="329.5" r="1.4"/><circle cx="651.4" cy="332.0" r="1.4"/><circle cx="668.4" cy="331.4" r="1.4"/><circle cx="669.6" cy="333.3" r="1.4"/><circle cx="676.5" cy="333.3" r="1.4"/><circle cx="694.7" cy="333.0" r="1.4"/><circle cx="620.3" cy="334.9" r="1.4"/><circle cx="642.7" cy="334.2" r="1.4"/><circle cx="657.5" cy="334.2" r="1.4"/><circle cx="660.6" cy="336.0" r="1.4"/><circle cx="679.0" cy="335.2" r="1.4"/><circle cx="680.7" cy="334.5" r="1.4"/><circle cx="685.9" cy="334.5" r="1.4"/><circle cx="689.1" cy="334.9" r="1.4"/><circle cx="697.2" cy="336.2" r="1.4"/><circle cx="644.9" cy="336.7" r="1.4"/><circle cx="667.8" cy="336.7" r="1.4"/><circle cx="670.9" cy="336.4" r="1.4"/><circle cx="672.1" cy="338.3" r="1.4"/><circle cx="677.5" cy="337.4" r="1.4"/><circle cx="629.2" cy="338.7" r="1.4"/><circle cx="627.9" cy="339.3" r="1.4"/><circle cx="643.9" cy="338.9" r="1.4"/><circle cx="659.6" cy="338.3" r="1.4"/><circle cx="679.0" cy="339.3" r="1.4"/><circle cx="640.1" cy="340.6" r="1.4"/><circle cx="646.2" cy="340.3" r="1.4"/><circle cx="655.0" cy="340.6" r="1.4"/><circle cx="659.0" cy="340.0" r="1.4"/><circle cx="667.8" cy="340.3" r="1.4"/><circle cx="673.4" cy="340.6" r="1.4"/><circle cx="678.4" cy="339.8" r="1.4"/><circle cx="632.4" cy="342.8" r="1.4"/><circle cx="633.6" cy="344.4" r="1.4"/><circle cx="639.9" cy="342.8" r="1.4"/><circle cx="641.4" cy="344.0" r="1.4"/><circle cx="643.3" cy="344.8" r="1.4"/><circle cx="652.1" cy="342.8" r="1.4"/><circle cx="653.3" cy="341.5" r="1.4"/><circle cx="650.6" cy="344.4" r="1.4"/><circle cx="663.1" cy="341.5" r="1.4"/><circle cx="665.2" cy="342.5" r="1.4"/><circle cx="669.0" cy="341.9" r="1.4"/><circle cx="671.5" cy="343.5" r="1.4"/><circle cx="682.8" cy="344.2" r="1.4"/><circle cx="690.7" cy="344.2" r="1.4"/><circle cx="625.5" cy="346.0" r="1.4"/><circle cx="629.1" cy="347.3" r="1.4"/><circle cx="633.9" cy="346.0" r="1.4"/><circle cx="638.9" cy="345.7" r="1.4"/><circle cx="640.8" cy="346.9" r="1.4"/><circle cx="644.5" cy="346.5" r="1.4"/><circle cx="644.9" cy="348.2" r="1.4"/><circle cx="655.2" cy="346.0" r="1.4"/><circle cx="654.0" cy="347.3" r="1.4"/><circle cx="657.1" cy="345.7" r="1.4"/><circle cx="660.2" cy="346.5" r="1.4"/><circle cx="661.5" cy="347.6" r="1.4"/><circle cx="664.9" cy="348.2" r="1.4"/><circle cx="672.1" cy="346.5" r="1.4"/><circle cx="680.9" cy="347.3" r="1.4"/><circle cx="678.4" cy="348.2" r="1.4"/><circle cx="701.4" cy="346.3" r="1.4"/><circle cx="619.2" cy="351.6" r="1.4"/><circle cx="626.4" cy="350.1" r="1.4"/><circle cx="632.0" cy="349.4" r="1.4"/><circle cx="638.9" cy="349.1" r="1.4"/><circle cx="642.0" cy="349.4" r="1.4"/><circle cx="643.3" cy="350.7" r="1.4"/><circle cx="638.3" cy="351.3" r="1.4"/><circle cx="640.8" cy="351.9" r="1.4"/><circle cx="645.2" cy="351.3" r="1.4"/><circle cx="647.7" cy="351.1" r="1.4"/><circle cx="650.2" cy="348.6" r="1.4"/><circle cx="651.4" cy="349.8" r="1.4"/><circle cx="654.6" cy="349.4" r="1.4"/><circle cx="654.8" cy="351.3" r="1.4"/><circle cx="669.4" cy="351.9" r="1.4"/><circle cx="673.4" cy="351.3" r="1.4"/><circle cx="675.3" cy="351.1" r="1.4"/><circle cx="687.2" cy="351.7" r="1.4"/><circle cx="632.0" cy="353.6" r="1.4"/><circle cx="639.9" cy="353.6" r="1.4"/><circle cx="643.3" cy="353.2" r="1.4"/><circle cx="638.3" cy="354.4" r="1.4"/><circle cx="654.3" cy="353.2" r="1.4"/><circle cx="659.6" cy="355.7" r="1.4"/><circle cx="679.7" cy="355.1" r="1.4"/><circle cx="687.5" cy="355.3" r="1.4"/><circle cx="636.6" cy="357.0" r="1.4"/><circle cx="725.0" cy="252.2" r="1.4"/><circle cx="752.8" cy="251.7" r="1.4"/><circle cx="706.8" cy="261.9" r="1.4"/><circle cx="725.0" cy="263.6" r="1.4"/><circle cx="718.7" cy="291.4" r="1.4"/><circle cx="719.9" cy="292.4" r="1.4"/><circle cx="766.0" cy="294.9" r="1.4"/><circle cx="720.2" cy="301.5" r="1.4"/><circle cx="728.4" cy="306.3" r="1.4"/><circle cx="709.1" cy="312.3" r="1.4"/><circle cx="716.2" cy="323.6" r="1.4"/><circle cx="717.9" cy="323.2" r="1.4"/><circle cx="734.0" cy="324.1" r="1.4"/><circle cx="740.3" cy="323.6" r="1.4"/><circle cx="749.0" cy="328.3" r="1.4"/><circle cx="708.9" cy="328.9" r="1.4"/><circle cx="704.5" cy="329.5" r="1.4"/><circle cx="705.1" cy="330.8" r="1.4"/><circle cx="706.8" cy="332.0" r="1.4"/><circle cx="716.7" cy="332.3" r="1.4"/><circle cx="732.5" cy="331.4" r="1.4"/><circle cx="716.2" cy="342.5" r="1.4"/><circle cx="733.4" cy="341.0" r="1.4"/><circle cx="734.4" cy="346.7" r="1.4"/><circle cx="724.0" cy="349.2" r="1.4"/><circle cx="726.7" cy="353.8" r="1.4"/></g>
</g>
</svg></body></html>
